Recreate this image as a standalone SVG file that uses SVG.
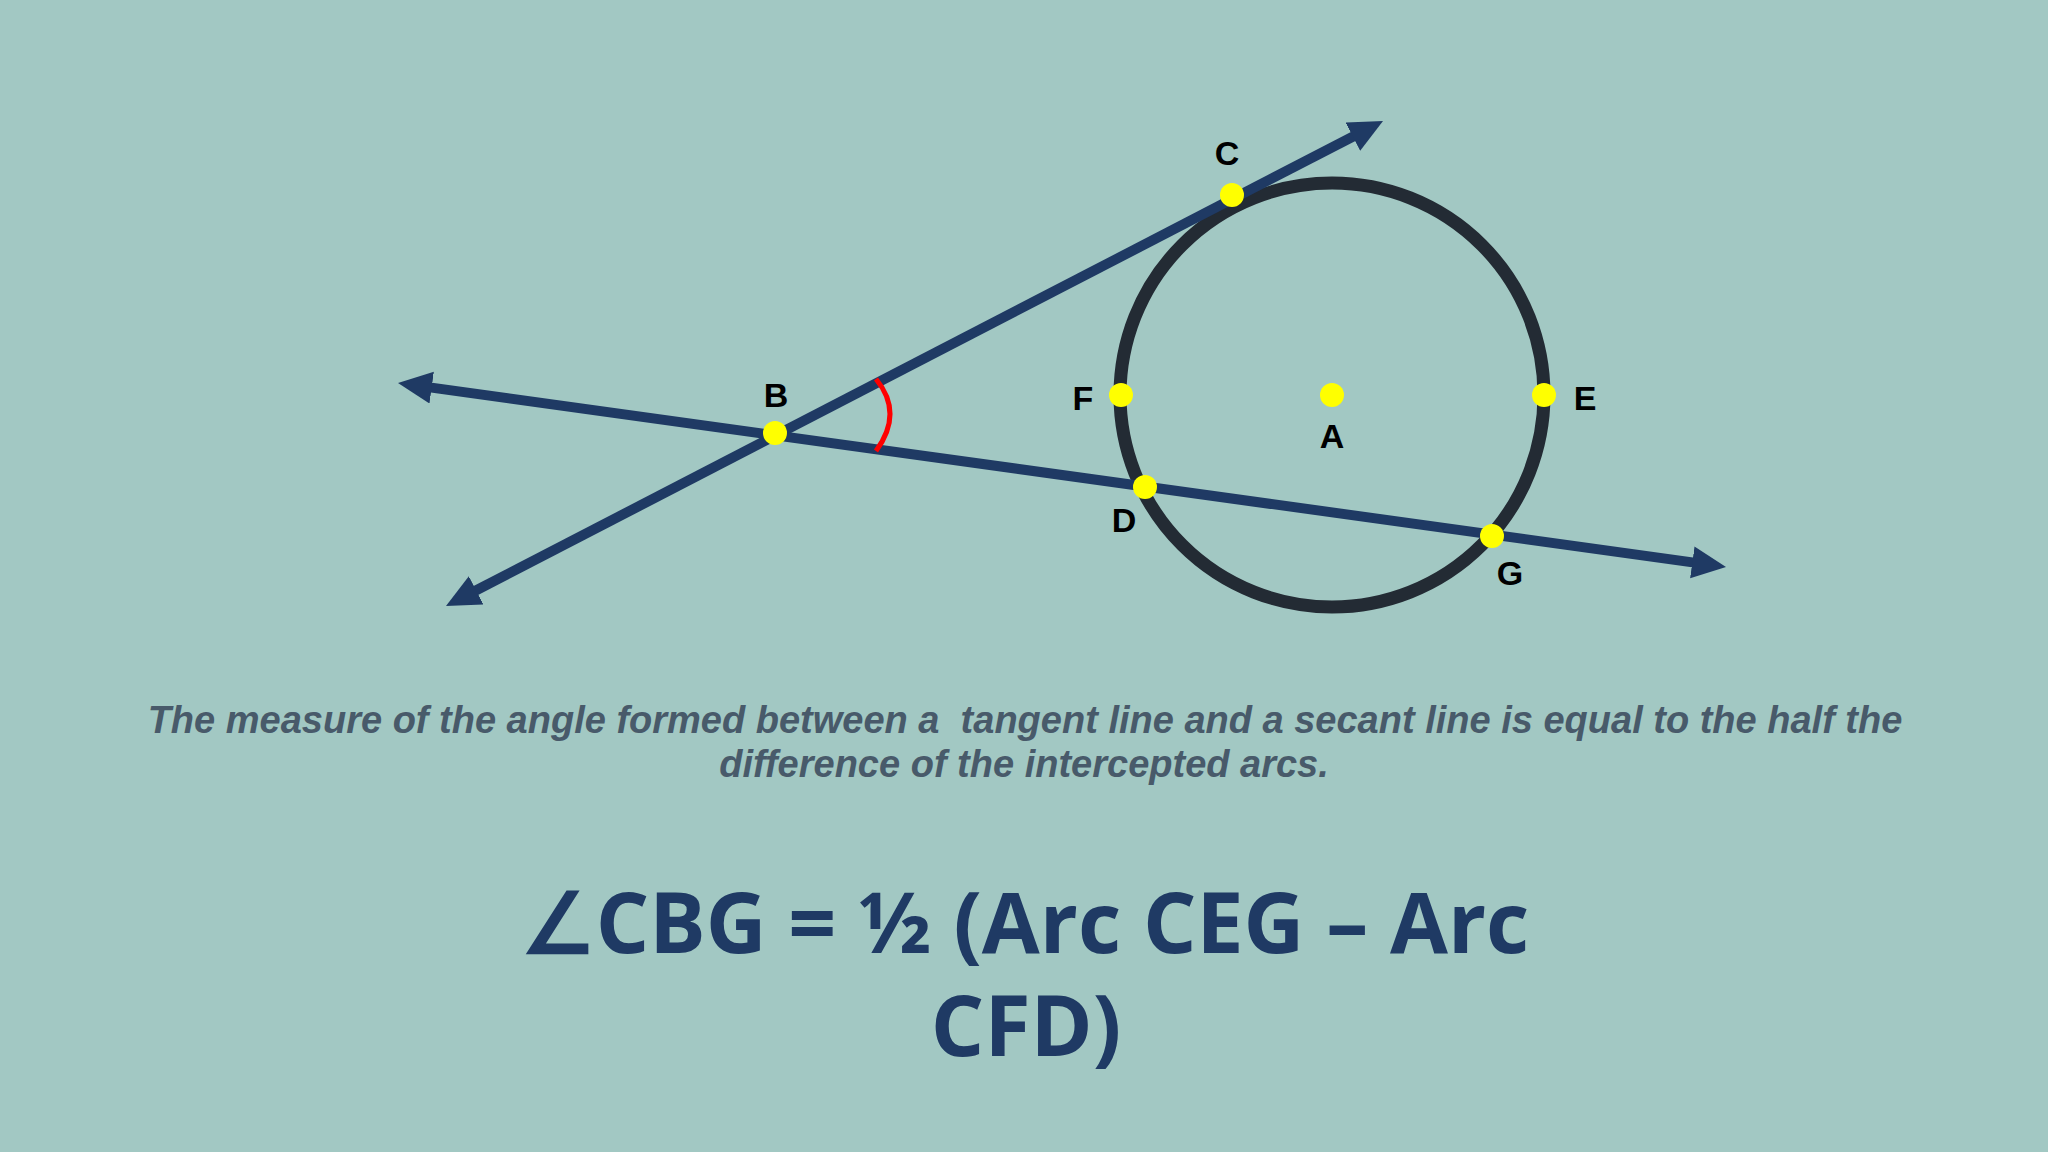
<svg xmlns="http://www.w3.org/2000/svg" width="2048" height="1152" viewBox="0 0 2048 1152">
<defs>
<style>
.ln{stroke:#1f3a64;stroke-width:10;fill:none;stroke-linecap:butt}
.dot{fill:#ffff00}
.lbl{font-family:"Liberation Sans",Arial,sans-serif;font-weight:bold;font-size:34px;fill:#000;text-anchor:middle}
.cap{font-family:"Liberation Sans",Arial,sans-serif;font-weight:bold;font-style:italic;font-size:38px;fill:#485a6a;text-anchor:middle;white-space:pre}
.fx{font-family:"Open Sans","Noto Sans",sans-serif;font-weight:bold;font-size:84px;fill:#1f3a64;text-anchor:middle}
</style>
<marker id="ah" markerUnits="userSpaceOnUse" markerWidth="36" markerHeight="34" refX="2" refY="16" orient="auto-start-reverse">
<path d="M0,0 L34,16 L0,32 Z" fill="#1f3a64"/>
</marker>
</defs>
<rect width="2048" height="1152" fill="#a2c8c3"/>
<g id="circle-A">
<circle cx="1332" cy="395" r="212" fill="none" stroke="#232b34" stroke-width="13"/>
</g>
<g id="connectors">
<line class="ln" x1="474.4" y1="591.3" x2="1354.6" y2="135.7" marker-start="url(#ah)" marker-end="url(#ah)"/>
<line class="ln" x1="429.7" y1="387.4" x2="1694.3" y2="562.6" marker-start="url(#ah)" marker-end="url(#ah)"/>
<path d="M876,379 Q904,413 876,451" fill="none" stroke="#ff0000" stroke-width="5"/>
</g>
<g id="point-A"><circle class="dot" cx="1332" cy="395" r="12"/><text class="lbl" x="1332" y="448">A</text></g>
<g id="point-B"><circle class="dot" cx="775" cy="433" r="12"/><text class="lbl" x="776" y="407">B</text></g>
<g id="point-C"><circle class="dot" cx="1232" cy="195" r="12"/><text class="lbl" x="1227" y="165">C</text></g>
<g id="point-D"><circle class="dot" cx="1145" cy="487" r="12"/><text class="lbl" x="1124" y="532">D</text></g>
<g id="point-E"><circle class="dot" cx="1544" cy="395" r="12"/><text class="lbl" x="1585" y="410">E</text></g>
<g id="point-F"><circle class="dot" cx="1121" cy="395" r="12"/><text class="lbl" x="1083" y="410">F</text></g>
<g id="point-G"><circle class="dot" cx="1492" cy="536" r="12"/><text class="lbl" x="1510" y="585">G</text></g>
<g id="caption">
<text class="cap" x="1025" y="733">The measure of the angle formed between a  tangent line and a secant line is equal to the half the</text>
<text class="cap" x="1024" y="777">difference of the intercepted arcs.</text>
</g>
<g id="formula">
<text class="fx" x="1025" y="953">∠CBG = ½ (Arc CEG – Arc</text>
<text class="fx" x="1026" y="1056">CFD)</text>
</g>
</svg>
